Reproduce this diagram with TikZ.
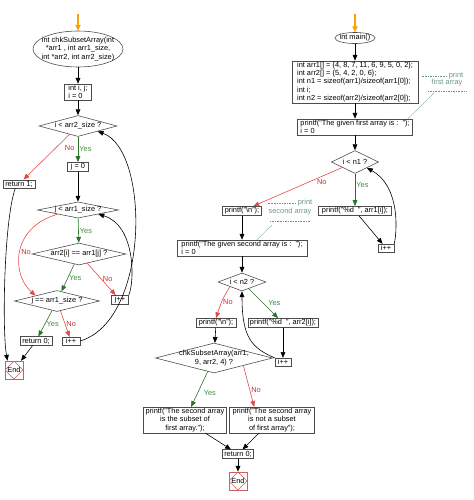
\documentclass[tikz,border=0pt]{standalone}
\usepackage{fontspec}
\setmainfont{Liberation Sans}
\usetikzlibrary{arrows.meta,shapes.geometric,calc}
\definecolor{R}{RGB}{226, 72, 72}
\definecolor{RT}{RGB}{200, 45, 45}
\definecolor{G}{RGB}{40, 115, 40}
\definecolor{GT}{RGB}{60, 140, 60}
\definecolor{O}{RGB}{245, 165, 0}
\definecolor{C}{RGB}{105, 150, 135}
\definecolor{E}{RGB}{205, 95, 95}
\newcommand{\pxl}{0.03cm}
\newcommand{\fuente}{\fontsize{6.3}{7}\selectfont}
\tikzset{
  caja/.style={draw=black!70, line width=0.5pt, inner xsep=1.2pt, inner ysep=1pt, align=left, font=\fuente},
  rombo/.style={diamond, draw=black!70, line width=0.5pt, inner sep=0pt, align=center, font=\fuente},
  elipse/.style={ellipse, draw=black!70, line width=0.5pt, align=center, font=\fuente},
  fin/.style={draw=E, line width=0.5pt, minimum width=18*\pxl, minimum height=18*\pxl, inner sep=0pt, font=\fuente,
    path picture={\draw[E] (path picture bounding box.north) -- (path picture bounding box.east)
      -- (path picture bounding box.south) -- (path picture bounding box.west) -- cycle;}},
  flecha/.style={-{Triangle[length=5pt,width=4pt]}, line width=0.5pt},
  si/.style={flecha, draw=G},
  no/.style={flecha, draw=R},
  etsi/.style={text=GT, inner sep=1pt, font=\fuente},
  etno/.style={text=RT, inner sep=1pt, font=\fuente},
  inicio/.style={-{Triangle[length=5pt,width=4.5pt]}, draw=O, line width=1.2pt},
  nota/.style={text=C, inner sep=0pt, align=center, font=\fuente},
  notalinea/.style={draw=C, line width=0.4pt, densely dotted},
  notaguia/.style={draw=C!70, line width=0.4pt}
}
\begin{document}
\begin{tikzpicture}[x=0.03cm, y=-0.03cm]
  \useasboundingbox (0,0) rectangle (474,500);

  %Funcion chkSubsetArray (izquierda)
  \coordinate (ini1) at (78,14);
  \node[elipse, inner xsep=-6.5pt, inner ysep=0.5pt, minimum width=90*\pxl, minimum height=36*\pxl] (chk) at (78,49)
    {int chkSubsetArray(int\\*arr1 , int arr1\_size,\\int *arr2, int arr2\_size)};
  \node[caja, minimum width=27*\pxl] (decl1) at (78,92) {int i, j;\\i = 0};
  \node[rombo, aspect=3.7, minimum width=78*\pxl, minimum height=21*\pxl] (d1) at (78,126) {i < arr2\_size ?};
  \node[caja, minimum width=21*\pxl] (j0) at (78,167) {j = 0};
  \node[caja, minimum width=32*\pxl] (ret1) at (19,184) {return 1;};
  \node[rombo, aspect=5, minimum width=80*\pxl, minimum height=16*\pxl] (d2) at (78,210) {j < arr1\_size ?};
  \node[rombo, aspect=4.3, minimum width=94*\pxl, minimum height=22*\pxl] (d3) at (79,254) {arr2[i] == arr1[j] ?};
  \node[caja, minimum width=17*\pxl] (jpp) at (120,300) {j++};
  \node[rombo, aspect=4, minimum width=85*\pxl, minimum height=21*\pxl] (d4) at (57,301) {j == arr1\_size ?};
  \node[caja, minimum width=32*\pxl] (ret0) at (36,341) {return 0;};
  \node[caja, minimum width=18*\pxl] (ipp) at (71,341) {i++};
  \node[fin] (fin1) at (14,370) {End};

  %Flechas de la izquierda
  \draw[inicio] (ini1) -- (chk);
  \draw[flecha] (chk) -- (decl1);
  \draw[flecha] (decl1) -- (d1);
  \draw[si] (d1) -- (j0) node[etsi, midway, right] {Yes};
  \draw[no] (d1) -- (ret1) node[etno, pos=0.3, xshift=12pt] {No};
  \draw[flecha] (j0) -- (d2);
  \draw[si] (d2) -- (d3) node[etsi, midway, right] {Yes};
  \draw[no] (d2.south west) .. controls (10,228) and (12,275) .. (d4.north west) node[etno, pos=0.5, right] {No};
  \draw[si] (d3) -- (d4) node[etsi, midway, right] {Yes};
  \draw[no] (d3) -- (jpp) node[etno, midway, right] {No};
  \draw[flecha] (jpp.north east) .. controls (135,280) and (135,225) .. (d2.south east);
  \draw[si] (d4) -- (ret0) node[etsi, midway, right] {Yes};
  \draw[no] (d4) -- (ipp) node[etno, midway, right] {No};
  \draw[flecha] (ipp.east) .. controls (150,320) and (150,150) .. (d1.south east);
  \draw[flecha] (ret1.230) .. controls (4,220) and (2,330) .. (fin1.125);
  \draw[flecha] (ret0) -- (fin1);

  %Funcion main (derecha)
  \coordinate (ini2) at (355,14);
  \node[elipse, inner xsep=-1pt, inner ysep=0.4pt, minimum width=40*\pxl, minimum height=11*\pxl] (main) at (355,38) {int main()};
  \node[caja, minimum width=126*\pxl] (decl2) at (355,82)
    {int arr1[] = \{4, 8, 7, 11, 6, 9, 5, 0, 2\};\\int arr2[] = \{5, 4, 2, 0, 6\};\\int n1 = sizeof(arr1)/sizeof(arr1[0]);\\int i;\\int n2 = sizeof(arr2)/sizeof(arr2[0]);};
  \node[caja, minimum width=115*\pxl] (print1) at (355,127) {printf("The given first array is :~~");\\i = 0};
  \node[rombo, aspect=2, minimum width=47*\pxl, minimum height=23*\pxl] (d5) at (355,162) {i < n1 ?};
  \node[caja, minimum width=39*\pxl] (pn1) at (242,211) {printf("\textbackslash n");};
  \node[caja, minimum width=73*\pxl] (pa1) at (355,211) {printf("\%d~~", arr1[i]);};
  \node[caja, minimum width=16*\pxl] (ipp1) at (386,248) {i++};
  \node[caja, minimum width=130*\pxl] (print2) at (242,248) {printf("The given second array is :~~");\\i = 0};
  \node[rombo, aspect=2.67, minimum width=48*\pxl, minimum height=18*\pxl] (d6) at (242,282) {i < n2 ?};
  \node[caja, minimum width=40*\pxl] (pn2) at (216,323) {printf("\textbackslash n");};
  \node[caja, minimum width=70*\pxl] (pa2) at (283,323) {printf("\%d~~", arr2[i]);};
  \node[caja, minimum width=16*\pxl] (ipp2) at (283,362) {i++};
  \node[rombo, aspect=3.9, inner sep=-2pt, minimum width=117*\pxl, minimum height=30*\pxl] (d7) at (214,358)
    {chkSubsetArray(arr1,\\9, arr2, 4) ?};
  \node[caja, align=center, minimum width=83*\pxl] (ps1) at (185,420) {printf("The second array\\is the subset of\\first array.");};
  \node[caja, align=center, minimum width=85*\pxl] (ps2) at (272,420) {printf("The second array\\is not a subset\\of first array");};
  \node[caja, minimum width=31*\pxl] (ret2) at (238,454) {return 0;};
  \node[fin] (fin2) at (238,481) {End};

  %Notas
  \node[nota] (nota1a) at (456,76) {print};
  \node[nota] (nota1b) at (447,83) {first array};
  \draw[notalinea] (nota1a.west) ++(-2,0) -- ++(-25,0);
  \draw[notalinea] (428,91) -- (467,91);
  \coordinate (pie1) at (434,93);
  \node[nota] (nota2a) at (305,203) {print};
  \node[nota] (nota2b) at (290,212) {second array};
  \draw[notalinea] (nota2a.west) ++(-2,0) -- ++(-28,0);
  \draw[notalinea] (270,221) -- (310,221);
  \coordinate (pie2) at (272,225);

  %Flechas de la derecha
  \draw[inicio] (ini2) -- (main);
  \draw[flecha] (main) -- (decl2);
  \draw[flecha] (decl2) -- (print1);
  \draw[flecha] (print1) -- (d5);
  \draw[no] (d5) -- (pn1) node[etno, pos=0.23, below=1pt] {No};
  \draw[si] (d5) -- (pa1) node[etsi, pos=0.35, right] {Yes};
  \draw[flecha] (pa1) -- (ipp1);
  \draw[flecha] (ipp1.north east) .. controls (398,225) and (398,185) .. (d5.south east);
  \draw[flecha] (pn1) -- (pn1 |- print2.north);
  \draw[flecha] (print2) -- (d6);
  \draw[no] (d6.south west) .. controls (222,300) .. (pn2.north) node[etno, pos=0.55, right] {No};
  \draw[si] (d6) -- (pa2) node[etsi, midway, right=3pt] {Yes};
  \draw[flecha] (pa2) -- (ipp2);
  \draw[flecha] (ipp2.north west) .. controls (252,348) and (242,338) .. (d6.south);
  \draw[flecha] (pn2) -- (d7);
  \draw[si] (d7) -- (ps1) node[etsi, pos=0.6, right=4pt] {Yes};
  \draw[no] (d7.south east) -- ($(ps2.north west)+(25,0)$) node[etno, pos=0.6, right] {No};
  \draw[flecha] (ps1) -- (ret2);
  \draw[flecha] (ps2) -- (ret2);
  \draw[flecha] (ret2) -- (fin2);
  \draw[notaguia] (pie1) -- ($(print1.north east)+(-5,0)$);
  \draw[notaguia] (pie2) -- ($(print2.north)+(15,0)$);
\end{tikzpicture}
\end{document}
